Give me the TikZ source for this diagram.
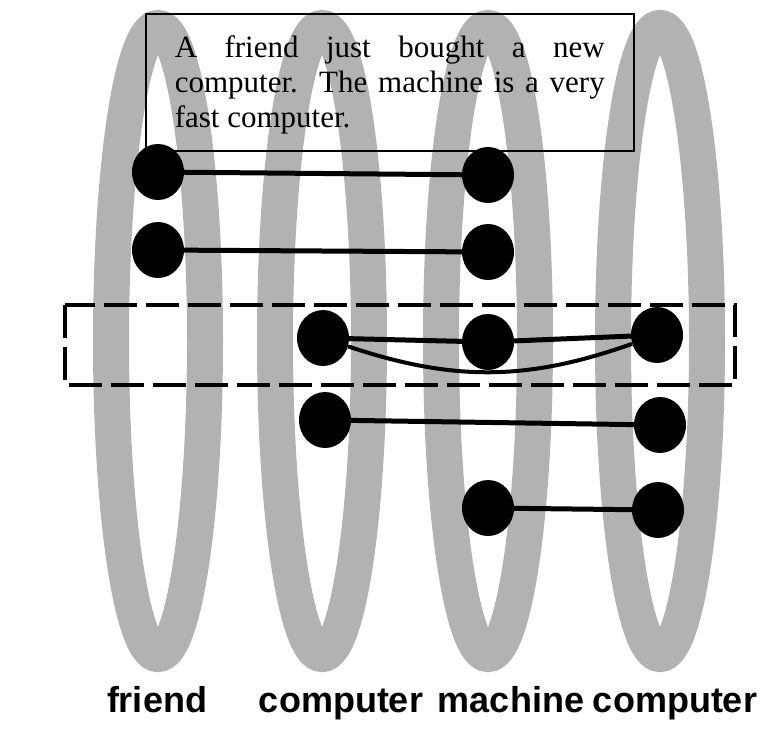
\documentclass[tikz,border=0pt]{standalone}
\usepackage{fontspec}
\setmainfont{Liberation Serif}
\newfontfamily\labelfont{Liberation Sans}
\usetikzlibrary{shapes.geometric}

\tikzset{
  ring/.style = {draw=black!30, line width=36pt},
  dot/.style = {ellipse, fill=black, minimum width=52pt, minimum height=56pt, inner sep=0pt},
  link/.style = {line width=5pt},
  dashbox/.style = {line width=4.5pt, dash pattern=on 33pt off 9pt},
  word/.style = {font=\labelfont\bfseries\fontsize{36}{36}\selectfont, anchor=base}
}

\begin{document}
\begin{tikzpicture}[x = 1pt, y = -1pt]
        \useasboundingbox (0, 0) rectangle (762, 734);
        % rings of the four words
        \foreach \x in {158, 322, 488, 660}
          \draw[ring] (\x, 341) ellipse (47pt and 313pt);
        \node[draw, line width = 1.5pt, anchor = north west, text width = 430pt, inner xsep = 29pt,
              minimum height = 137pt, align = justify, font = \fontsize{31}{35}\selectfont] (story) at (145, 13)
              {\rule{0pt}{27pt}A friend just bought a new\linebreak computer.\ \ The machine is a very\linebreak fast computer.};
        \draw[dashbox] (65, 305) rectangle (735, 385);
        % mentions
        \node[dot] (f1) at (158, 172) {};
        \node[dot] (m1) at (488, 175) {};
        \node[dot] (f2) at (158, 250) {};
        \node[dot] (m2) at (488, 252) {};
        \node[dot] (c3) at (323, 338) {};
        \node[dot] (m3) at (488, 342) {};
        \node[dot] (d3) at (657, 335) {};
        \node[dot] (c4) at (325, 420) {};
        \node[dot] (d4) at (660, 425) {};
        \node[dot] (m5) at (488, 508) {};
        \node[dot] (d5) at (658, 510) {};
        \draw[link] (f1) -- (m1);
        \draw[link] (f2) -- (m2);
        \draw[link] (c3) -- (m3) -- (d3);
        \draw[line width = 4pt] (c3) to[bend right = 19] (d3);
        \draw[link] (c4) -- (d4);
        \draw[link] (m5) -- (d5);
        % words
        \node[word] (wf) at (157, 712) {friend};
        \node[word] (wc) at (341, 712) {computer};
        \node[word] (wm) at (511, 712) {machine};
        \node[word] (wd) at (675, 712) {computer};
      \end{tikzpicture}
\end{document}
